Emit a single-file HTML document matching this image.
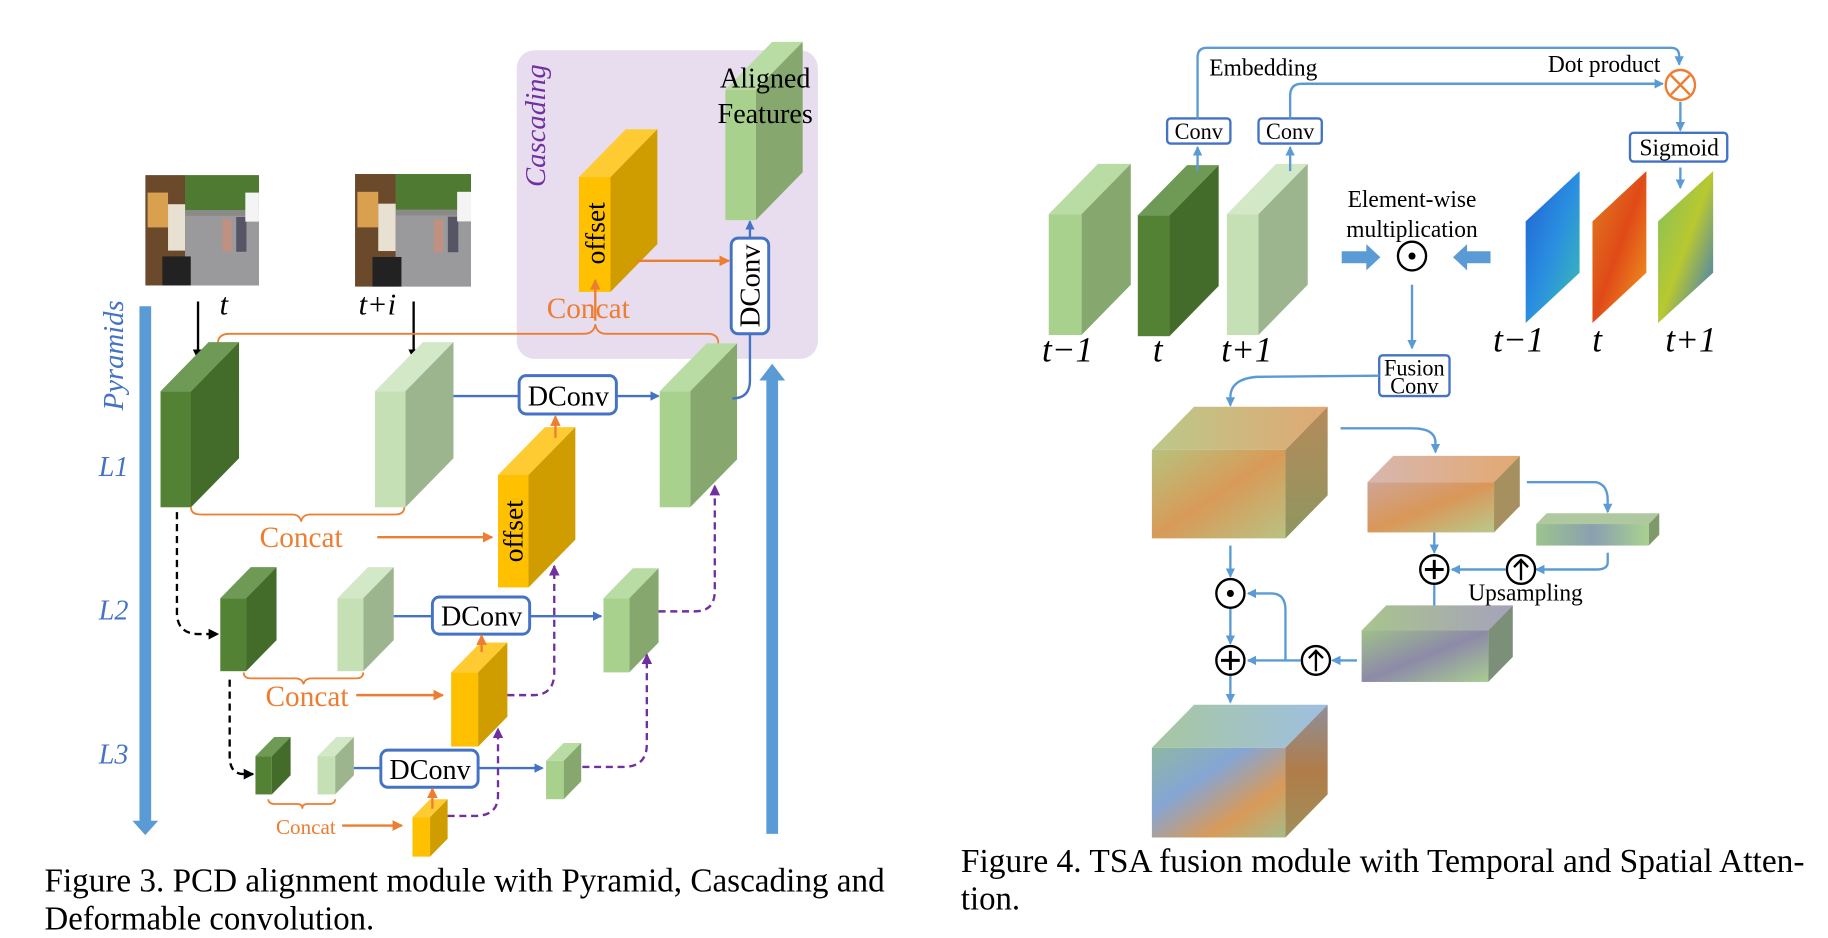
<!DOCTYPE html>
<html><head><meta charset="utf-8"><style>html,body{margin:0;padding:0;background:#fff}svg{display:block}text{font-family:"Liberation Serif",serif}</style></head><body>
<svg width="1828" height="938" viewBox="0 0 1560 784" preserveAspectRatio="none" xmlns="http://www.w3.org/2000/svg">
<defs>
<marker id="ab" markerWidth="8" markerHeight="8" refX="7" refY="4" orient="auto" markerUnits="userSpaceOnUse"><path d="M0,0 L8,4 L0,8 z" fill="#4472c4"/></marker>
<marker id="al" markerWidth="8" markerHeight="8" refX="7" refY="4" orient="auto" markerUnits="userSpaceOnUse"><path d="M0,0 L8,4 L0,8 z" fill="#5b9bd5"/></marker>
<marker id="ao" markerWidth="9" markerHeight="9" refX="8" refY="4.5" orient="auto" markerUnits="userSpaceOnUse"><path d="M0,0 L9,4.5 L0,9 z" fill="#ed7d31"/></marker>
<marker id="ak" markerWidth="9" markerHeight="9" refX="8" refY="4.5" orient="auto" markerUnits="userSpaceOnUse"><path d="M0,0 L9,4.5 L0,9 z" fill="#000"/></marker>
<marker id="ap" markerWidth="9" markerHeight="9" refX="8" refY="4.5" orient="auto" markerUnits="userSpaceOnUse"><path d="M0,0 L9,4.5 L0,9 z" fill="#7030a0"/></marker>
<linearGradient id="g1" x1="0" y1="0" x2="1" y2="1"><stop offset="0" stop-color="#b7c27e"/><stop offset="0.5" stop-color="#d89a58"/><stop offset="1" stop-color="#b9c283"/></linearGradient>
<linearGradient id="g1t" x1="0" y1="0" x2="1" y2="0"><stop offset="0" stop-color="#bcc889"/><stop offset="1" stop-color="#e0a874"/></linearGradient>
<linearGradient id="g1s" x1="0" y1="0" x2="0" y2="1"><stop offset="0" stop-color="#b58a5a"/><stop offset="1" stop-color="#8f9660"/></linearGradient>
<linearGradient id="g2" x1="0" y1="0" x2="1" y2="1"><stop offset="0" stop-color="#cfa596"/><stop offset="0.5" stop-color="#d99758"/><stop offset="1" stop-color="#b9c98c"/></linearGradient>
<linearGradient id="g2t" x1="0" y1="0" x2="1" y2="0"><stop offset="0" stop-color="#d7b7b0"/><stop offset="1" stop-color="#e3a870"/></linearGradient>
<linearGradient id="g3" x1="0" y1="0" x2="1" y2="0"><stop offset="0" stop-color="#9cc48c"/><stop offset="0.5" stop-color="#8aa0b0"/><stop offset="1" stop-color="#a9d190"/></linearGradient>
<linearGradient id="g4" x1="0" y1="0" x2="1" y2="1"><stop offset="0" stop-color="#9fc08a"/><stop offset="0.5" stop-color="#8d8aa8"/><stop offset="1" stop-color="#a9cd92"/></linearGradient>
<linearGradient id="g4t" x1="0" y1="0" x2="1" y2="0"><stop offset="0" stop-color="#a9c48d"/><stop offset="1" stop-color="#a6a2bb"/></linearGradient>
<linearGradient id="g5" x1="0" y1="0" x2="1" y2="1"><stop offset="0" stop-color="#8fb7a3"/><stop offset="0.35" stop-color="#85a6d4"/><stop offset="0.7" stop-color="#d89a58"/><stop offset="1" stop-color="#a6bb88"/></linearGradient>
<linearGradient id="g5t" x1="0" y1="0" x2="1" y2="0"><stop offset="0" stop-color="#a7c7a0"/><stop offset="1" stop-color="#9ebfe0"/></linearGradient>
<linearGradient id="g5s" x1="0" y1="0" x2="0" y2="1"><stop offset="0" stop-color="#8f8f9a"/><stop offset="0.5" stop-color="#b07c48"/><stop offset="1" stop-color="#a08f5a"/></linearGradient>
<linearGradient id="h1" x1="0" y1="0" x2="1" y2="1"><stop offset="0" stop-color="#1f5fd0"/><stop offset="0.5" stop-color="#2a8ee0"/><stop offset="1" stop-color="#3cc0b0"/></linearGradient>
<linearGradient id="h2" x1="0" y1="0" x2="1" y2="1"><stop offset="0" stop-color="#e08020"/><stop offset="0.5" stop-color="#e04a18"/><stop offset="1" stop-color="#f0a020"/></linearGradient>
<linearGradient id="h3" x1="0" y1="0" x2="1" y2="1"><stop offset="0" stop-color="#80c060"/><stop offset="0.5" stop-color="#b8c830"/><stop offset="1" stop-color="#3070d0"/></linearGradient>
<symbol id="street" viewBox="0 0 100 95">
<rect width="100" height="95" fill="#8a8a88"/>
<rect x="35" y="0" width="65" height="30" fill="#4f7a32"/>
<rect x="0" y="0" width="35" height="95" fill="#6a4a2a"/>
<rect x="2" y="15" width="18" height="30" fill="#d9a050"/>
<rect x="20" y="25" width="15" height="40" fill="#e8e0d0"/>
<rect x="35" y="35" width="65" height="60" fill="#9a9a9c"/>
<rect x="15" y="70" width="25" height="25" fill="#222"/>
<rect x="68" y="38" width="8" height="28" fill="#c09080"/>
<rect x="80" y="36" width="9" height="30" fill="#556"/>
<rect x="88" y="15" width="12" height="25" fill="#f4f4f4"/>
</symbol>
</defs>

<rect x="441" y="42" width="257" height="258" rx="15" fill="#e7ddef"/>
<text transform="translate(465,105) rotate(-90)" text-anchor="middle" font-size="24" font-style="italic" fill="#7030a0">Cascading</text>

<polygon points="619,75 659,35 685,35 645,75" fill="#b8dca3"/>
<polygon points="645,75 685,35 685,144 645,184" fill="#86a86f"/>
<rect x="619" y="75" width="26" height="109" fill="#a9d18e"/>
<text x="653" y="73" text-anchor="middle" font-size="24">Aligned</text>
<text x="653" y="103" text-anchor="middle" font-size="24">Features</text>

<polygon points="494,148 534,108 561,108 521,148" fill="#ffcb33"/>
<polygon points="521,148 561,108 561,204 521,244" fill="#cf9d00"/>
<rect x="494" y="148" width="27" height="96" fill="#ffc000"/>
<text transform="translate(516,195) rotate(-90)" text-anchor="middle" font-size="23">offset</text>

<use href="#street" x="124" y="145" width="97" height="95"/>
<use href="#street" x="303" y="145" width="99" height="95"/>
<text x="191" y="263" text-anchor="middle" font-size="26" font-style="italic">t</text>
<text x="322" y="263" text-anchor="middle" font-size="26" font-style="italic">t+i</text>
<line x1="169" y1="252" x2="169" y2="300" stroke="#000" stroke-width="2" marker-end="url(#ak)"/>
<line x1="353" y1="252" x2="353" y2="300" stroke="#000" stroke-width="2" marker-end="url(#ak)"/>

<line x1="124" y1="256" x2="124" y2="688" stroke="#5b9bd5" stroke-width="10"/>
<polygon points="113,686 135,686 124,698" fill="#5b9bd5"/>
<line x1="659" y1="316" x2="659" y2="697" stroke="#5b9bd5" stroke-width="10"/>
<polygon points="648,318 670,318 659,304" fill="#5b9bd5"/>
<text transform="translate(105,297) rotate(-90)" text-anchor="middle" font-size="24" font-style="italic" fill="#4472c4">Pyramids</text>
<text x="97" y="398" text-anchor="middle" font-size="24" font-style="italic" fill="#4472c4">L1</text>
<text x="97" y="518" text-anchor="middle" font-size="24" font-style="italic" fill="#4472c4">L2</text>
<text x="97" y="638" text-anchor="middle" font-size="24" font-style="italic" fill="#4472c4">L3</text>

<path d="M186,287 Q186,279 196,279 L498,279 Q507,279 508,271 Q509,279 518,279 L604,279 Q613,279 613,287" fill="none" stroke="#ed7d31" stroke-width="1.5"/>
<text x="502" y="266" text-anchor="middle" font-size="25" fill="#ed7d31">Concat</text>
<line x1="508" y1="268" x2="508" y2="234" stroke="#ed7d31" stroke-width="2" marker-end="url(#ao)"/>
<line x1="543" y1="218" x2="622" y2="218" stroke="#ed7d31" stroke-width="2" marker-end="url(#ao)"/>
<rect x="624" y="199" width="32" height="80" rx="6" fill="#fff" stroke="#4472c4" stroke-width="2.5"/>
<text transform="translate(648,239) rotate(-90)" text-anchor="middle" font-size="24">DConv</text>
<line x1="640" y1="199" x2="640" y2="185" stroke="#4472c4" stroke-width="2" marker-end="url(#ab)"/>

<polygon points="137,327 178,286 204,286 163,327" fill="#6f9a55"/>
<polygon points="163,327 204,286 204,383 163,424" fill="#436b2a"/>
<rect x="137" y="327" width="26" height="97" fill="#548235"/>
<polygon points="320,327 361,286 387,286 346,327" fill="#d3e8c6"/>
<polygon points="346,327 387,286 387,383 346,424" fill="#9db58f"/>
<rect x="320" y="327" width="26" height="97" fill="#c5e0b4"/>
<polygon points="563,327 603,287 629,287 589,327" fill="#b8dca3"/>
<polygon points="589,327 629,287 629,384 589,424" fill="#86a86f"/>
<rect x="563" y="327" width="26" height="97" fill="#a9d18e"/>
<path d="M625,333 Q640,333 640,318 L640,279" fill="none" stroke="#4472c4" stroke-width="2"/>
<line x1="387" y1="331" x2="443" y2="331" stroke="#4472c4" stroke-width="2"/>
<rect x="443" y="314" width="83" height="32" rx="6" fill="#fff" stroke="#4472c4" stroke-width="2.5"/>
<text x="485" y="339" text-anchor="middle" font-size="24">DConv</text>
<line x1="526" y1="331" x2="562" y2="331" stroke="#4472c4" stroke-width="2" marker-end="url(#ab)"/>
<polygon points="425,397 465,357 491,357 451,397" fill="#ffcb33"/>
<polygon points="451,397 491,357 491,451 451,491" fill="#cf9d00"/>
<rect x="425" y="397" width="26" height="94" fill="#ffc000"/>
<text transform="translate(446,444) rotate(-90)" text-anchor="middle" font-size="23">offset</text>
<line x1="474" y1="366" x2="474" y2="348" stroke="#ed7d31" stroke-width="2" marker-end="url(#ao)"/>
<path d="M163,424 Q163,430 171,430 L249,430 Q256,430 257,436 Q258,430 265,430 L337,430 Q345,430 345,424" fill="none" stroke="#ed7d31" stroke-width="1.5"/>
<text x="257" y="457" text-anchor="middle" font-size="25" fill="#ed7d31">Concat</text>
<line x1="322" y1="449" x2="420" y2="449" stroke="#ed7d31" stroke-width="2" marker-end="url(#ao)"/>
<path d="M151,428 L151,512 Q151,530 170,530 L186,530" fill="none" stroke="#000" stroke-width="2" stroke-dasharray="6,4" marker-end="url(#ak)"/>

<polygon points="188,500 214,474 236,474 210,500" fill="#6f9a55"/>
<polygon points="210,500 236,474 236,535 210,561" fill="#436b2a"/>
<rect x="188" y="500" width="22" height="61" fill="#548235"/>
<polygon points="288,500 314,474 336,474 310,500" fill="#d3e8c6"/>
<polygon points="310,500 336,474 336,535 310,561" fill="#9db58f"/>
<rect x="288" y="500" width="22" height="61" fill="#c5e0b4"/>
<polygon points="515,500 540,475 562,475 537,500" fill="#b8dca3"/>
<polygon points="537,500 562,475 562,537 537,562" fill="#86a86f"/>
<rect x="515" y="500" width="22" height="62" fill="#a9d18e"/>
<line x1="336" y1="515" x2="369" y2="515" stroke="#4472c4" stroke-width="2"/>
<rect x="369" y="499" width="83" height="31" rx="6" fill="#fff" stroke="#4472c4" stroke-width="2.5"/>
<text x="411" y="523" text-anchor="middle" font-size="24">DConv</text>
<line x1="452" y1="515" x2="513" y2="515" stroke="#4472c4" stroke-width="2" marker-end="url(#ab)"/>
<polygon points="385,562 410,537 433,537 408,562" fill="#ffcb33"/>
<polygon points="408,562 433,537 433,599 408,624" fill="#cf9d00"/>
<rect x="385" y="562" width="23" height="62" fill="#ffc000"/>
<line x1="411" y1="545" x2="411" y2="531" stroke="#ed7d31" stroke-width="2" marker-end="url(#ao)"/>
<path d="M208,562 Q208,567 214,567 L252,567 Q258,567 259,572 Q260,567 266,567 L304,567 Q310,567 310,562" fill="none" stroke="#ed7d31" stroke-width="1.5"/>
<text x="262" y="590" text-anchor="middle" font-size="25" fill="#ed7d31">Concat</text>
<line x1="304" y1="581" x2="378" y2="581" stroke="#ed7d31" stroke-width="2" marker-end="url(#ao)"/>
<path d="M433,581 L455,581 Q473,581 473,562 L473,473" fill="none" stroke="#7030a0" stroke-width="2" stroke-dasharray="6,4" marker-end="url(#ap)"/>
<path d="M562,511 L593,511 Q610,511 610,494 L610,406" fill="none" stroke="#7030a0" stroke-width="2" stroke-dasharray="6,4" marker-end="url(#ap)"/>
<path d="M196,568 L196,632 Q196,647 208,647 L216,647" fill="none" stroke="#000" stroke-width="2" stroke-dasharray="6,4" marker-end="url(#ak)"/>

<polygon points="218,632 234,616 248,616 232,632" fill="#6f9a55"/>
<polygon points="232,632 248,616 248,648 232,664" fill="#436b2a"/>
<rect x="218" y="632" width="14" height="32" fill="#548235"/>
<polygon points="271,632 287,616 302,616 286,632" fill="#d3e8c6"/>
<polygon points="286,632 302,616 302,648 286,664" fill="#9db58f"/>
<rect x="271" y="632" width="15" height="32" fill="#c5e0b4"/>
<polygon points="466,636 481,621 496,621 481,636" fill="#b8dca3"/>
<polygon points="481,636 496,621 496,653 481,668" fill="#86a86f"/>
<rect x="466" y="636" width="15" height="32" fill="#a9d18e"/>
<line x1="302" y1="642" x2="325" y2="642" stroke="#4472c4" stroke-width="2"/>
<rect x="325" y="627" width="83" height="31" rx="6" fill="#fff" stroke="#4472c4" stroke-width="2.5"/>
<text x="367" y="651" text-anchor="middle" font-size="24">DConv</text>
<line x1="408" y1="642" x2="463" y2="642" stroke="#4472c4" stroke-width="2" marker-end="url(#ab)"/>
<polygon points="352,683 367,668 382,668 367,683" fill="#ffcb33"/>
<polygon points="367,683 382,668 382,701 367,716" fill="#cf9d00"/>
<rect x="352" y="683" width="15" height="33" fill="#ffc000"/>
<line x1="369" y1="676" x2="369" y2="659" stroke="#ed7d31" stroke-width="2" marker-end="url(#ao)"/>
<path d="M229,668 Q229,672 235,672 L254,672 Q258,672 258,676 Q258,672 262,672 L280,672 Q286,672 286,668" fill="none" stroke="#ed7d31" stroke-width="1.5"/>
<text x="261" y="697" text-anchor="middle" font-size="18" fill="#ed7d31">Concat</text>
<line x1="292" y1="690" x2="343" y2="690" stroke="#ed7d31" stroke-width="2" marker-end="url(#ao)"/>
<path d="M382,682 L405,682 Q425,682 425,665 L425,609" fill="none" stroke="#7030a0" stroke-width="2" stroke-dasharray="6,4" marker-end="url(#ap)"/>
<path d="M497,641 L532,641 Q552,641 552,622 L552,547" fill="none" stroke="#7030a0" stroke-width="2" stroke-dasharray="6,4" marker-end="url(#ap)"/>

<text x="38" y="745" font-size="28" textLength="717" lengthAdjust="spacingAndGlyphs">Figure 3.  PCD alignment module with Pyramid, Cascading and</text>
<text x="38" y="777" font-size="28">Deformable convolution.</text>

<polygon points="895,179 937,137 965,137 923,179" fill="#b8dca3"/>
<polygon points="923,179 965,137 965,238 923,280" fill="#86a86f"/>
<rect x="895" y="179" width="28" height="101" fill="#a9d18e"/>
<polygon points="971,180 1013,138 1040,138 998,180" fill="#6f9a55"/>
<polygon points="998,180 1040,138 1040,239 998,281" fill="#436b2a"/>
<rect x="971" y="180" width="27" height="101" fill="#548235"/>
<polygon points="1047,179 1089,137 1116,137 1074,179" fill="#d3e8c6"/>
<polygon points="1074,179 1116,137 1116,238 1074,280" fill="#9db58f"/>
<rect x="1047" y="179" width="27" height="101" fill="#c5e0b4"/>
<text x="911" y="302" text-anchor="middle" font-size="30" font-style="italic">t−1</text>
<text x="988" y="302" text-anchor="middle" font-size="30" font-style="italic">t</text>
<text x="1064" y="302" text-anchor="middle" font-size="30" font-style="italic">t+1</text>

<line x1="1022" y1="143" x2="1022" y2="123" stroke="#5b9bd5" stroke-width="2" marker-end="url(#al)"/>
<line x1="1101" y1="143" x2="1101" y2="123" stroke="#5b9bd5" stroke-width="2" marker-end="url(#al)"/>
<rect x="996" y="99" width="54" height="21" rx="3" fill="#fff" stroke="#4472c4" stroke-width="2"/>
<text x="1023" y="116" text-anchor="middle" font-size="19">Conv</text>
<rect x="1074" y="99" width="54" height="21" rx="3" fill="#fff" stroke="#4472c4" stroke-width="2"/>
<text x="1101" y="116" text-anchor="middle" font-size="19">Conv</text>
<path d="M1022,99 L1022,48 Q1022,40 1030,40 L1426,40 Q1433,40 1433,47 L1433,54" fill="none" stroke="#5b9bd5" stroke-width="2" marker-end="url(#al)"/>
<path d="M1101,99 L1101,80 Q1101,70 1111,70 L1419,70" fill="none" stroke="#5b9bd5" stroke-width="2" marker-end="url(#al)"/>
<text x="1032" y="63" font-size="20">Embedding</text>
<text x="1417" y="60" text-anchor="end" font-size="20">Dot product</text>
<circle cx="1434" cy="71" r="12.5" fill="#fff" stroke="#ed7d31" stroke-width="2"/>
<path d="M1426,63 L1442,79 M1442,63 L1426,79" stroke="#ed7d31" stroke-width="2"/>
<line x1="1434" y1="85" x2="1434" y2="109" stroke="#5b9bd5" stroke-width="2" marker-end="url(#al)"/>
<rect x="1391" y="111" width="83" height="24" rx="3" fill="#fff" stroke="#4472c4" stroke-width="2"/>
<text x="1433" y="130" text-anchor="middle" font-size="20">Sigmoid</text>
<line x1="1434" y1="140" x2="1434" y2="157" stroke="#5b9bd5" stroke-width="2" marker-end="url(#al)"/>

<polygon points="1302,270 1302,185 1348,143 1348,228" fill="url(#h1)"/>
<polygon points="1359,270 1359,185 1405,143 1405,228" fill="url(#h2)"/>
<polygon points="1415,270 1415,185 1462,143 1462,228" fill="url(#h3)"/>
<text x="1296" y="294" text-anchor="middle" font-size="30" font-style="italic">t−1</text>
<text x="1363" y="294" text-anchor="middle" font-size="30" font-style="italic">t</text>
<text x="1443" y="294" text-anchor="middle" font-size="30" font-style="italic">t+1</text>

<text x="1205" y="173" text-anchor="middle" font-size="20">Element-wise</text>
<text x="1205" y="198" text-anchor="middle" font-size="20">multiplication</text>
<circle cx="1205" cy="214" r="12" fill="#fff" stroke="#000" stroke-width="2"/>
<circle cx="1205" cy="214" r="3" fill="#000"/>
<polygon points="1145,210 1166,210 1166,204 1178,215 1166,226 1166,220 1145,220" fill="#5b9bd5"/>
<polygon points="1272,210 1252,210 1252,204 1240,215 1252,226 1252,220 1272,220" fill="#5b9bd5"/>
<line x1="1205" y1="238" x2="1205" y2="291" stroke="#5b9bd5" stroke-width="2" marker-end="url(#al)"/>
<rect x="1177" y="297" width="60" height="34" rx="3" fill="#fff" stroke="#4472c4" stroke-width="2"/>
<text x="1207" y="314" text-anchor="middle" font-size="19">Fusion</text>
<text x="1207" y="329" text-anchor="middle" font-size="19">Conv</text>
<path d="M1177,314 L1072,315 Q1050,317 1050,332 L1050,339" fill="none" stroke="#5b9bd5" stroke-width="2" marker-end="url(#al)"/>

<polygon points="983,376 1019,340 1133,340 1097,376" fill="url(#g1t)"/>
<polygon points="1097,376 1133,340 1133,414 1097,450" fill="url(#g1s)"/>
<rect x="983" y="376" width="114" height="74" fill="url(#g1)"/>
<path d="M1144,358 L1205,358 Q1225,358 1225,370 L1225,378" fill="none" stroke="#5b9bd5" stroke-width="2" marker-end="url(#al)"/>
<polygon points="1167,403 1189,381 1297,381 1275,403" fill="url(#g2t)"/>
<polygon points="1275,403 1297,381 1297,423 1275,445" fill="#a79060"/>
<rect x="1167" y="403" width="108" height="42" fill="url(#g2)"/>
<path d="M1303,403 L1362,403 Q1372,405 1372,418 L1372,428" fill="none" stroke="#5b9bd5" stroke-width="2" marker-end="url(#al)"/>
<polygon points="1311,438 1320,429 1416,429 1407,438" fill="#b0c8a0"/>
<polygon points="1407,438 1416,429 1416,447 1407,456" fill="#7f9a6a"/>
<rect x="1311" y="438" width="96" height="18" fill="url(#g3)"/>
<path d="M1372,462 L1372,470 Q1372,476 1362,476 L1311,476" fill="none" stroke="#5b9bd5" stroke-width="2" marker-end="url(#al)"/>
<circle cx="1298" cy="476" r="12" fill="#fff" stroke="#000" stroke-width="2"/>
<path d="M1298,485 L1298,468 M1292,474 L1298,468 L1304,474" fill="none" stroke="#000" stroke-width="2"/>
<line x1="1285" y1="476" x2="1239" y2="476" stroke="#5b9bd5" stroke-width="2" marker-end="url(#al)"/>
<circle cx="1224" cy="476" r="12" fill="#fff" stroke="#000" stroke-width="2"/>
<path d="M1224,468 L1224,484 M1216,476 L1232,476" stroke="#000" stroke-width="2.5"/>
<line x1="1224" y1="445" x2="1224" y2="462" stroke="#5b9bd5" stroke-width="2" marker-end="url(#al)"/>
<line x1="1224" y1="489" x2="1224" y2="513" stroke="#5b9bd5" stroke-width="2" marker-end="url(#al)"/>
<text x="1253" y="502" font-size="20">Upsampling</text>
<polygon points="1162,527 1183,506 1291,506 1270,527" fill="url(#g4t)"/>
<polygon points="1270,527 1291,506 1291,549 1270,570" fill="#7c8f78"/>
<rect x="1162" y="527" width="108" height="43" fill="url(#g4)"/>
<line x1="1158" y1="552" x2="1137" y2="552" stroke="#5b9bd5" stroke-width="2" marker-end="url(#al)"/>
<circle cx="1123" cy="552" r="12" fill="#fff" stroke="#000" stroke-width="2"/>
<path d="M1123,561 L1123,544 M1117,550 L1123,544 L1129,550" fill="none" stroke="#000" stroke-width="2"/>
<line x1="1110" y1="552" x2="1065" y2="552" stroke="#5b9bd5" stroke-width="2" marker-end="url(#al)"/>
<path d="M1097,552 L1097,510 Q1097,496 1085,496 L1065,496" fill="none" stroke="#5b9bd5" stroke-width="2" marker-end="url(#al)"/>
<circle cx="1050" cy="496" r="12" fill="#fff" stroke="#000" stroke-width="2"/>
<circle cx="1050" cy="496" r="3" fill="#000"/>
<circle cx="1050" cy="552" r="12" fill="#fff" stroke="#000" stroke-width="2"/>
<path d="M1050,544 L1050,560 M1042,552 L1058,552" stroke="#000" stroke-width="2.5"/>
<line x1="1050" y1="456" x2="1050" y2="482" stroke="#5b9bd5" stroke-width="2" marker-end="url(#al)"/>
<line x1="1050" y1="509" x2="1050" y2="538" stroke="#5b9bd5" stroke-width="2" marker-end="url(#al)"/>
<line x1="1050" y1="565" x2="1050" y2="587" stroke="#5b9bd5" stroke-width="2" marker-end="url(#al)"/>
<polygon points="983,625 1019,589 1133,589 1097,625" fill="url(#g5t)"/>
<polygon points="1097,625 1133,589 1133,664 1097,700" fill="url(#g5s)"/>
<rect x="983" y="625" width="114" height="75" fill="url(#g5)"/>

<text x="820" y="729" font-size="28" textLength="720" lengthAdjust="spacingAndGlyphs">Figure 4.  TSA fusion module with Temporal and Spatial Atten-</text>
<text x="820" y="760" font-size="28">tion.</text>
</svg>
</body></html>
